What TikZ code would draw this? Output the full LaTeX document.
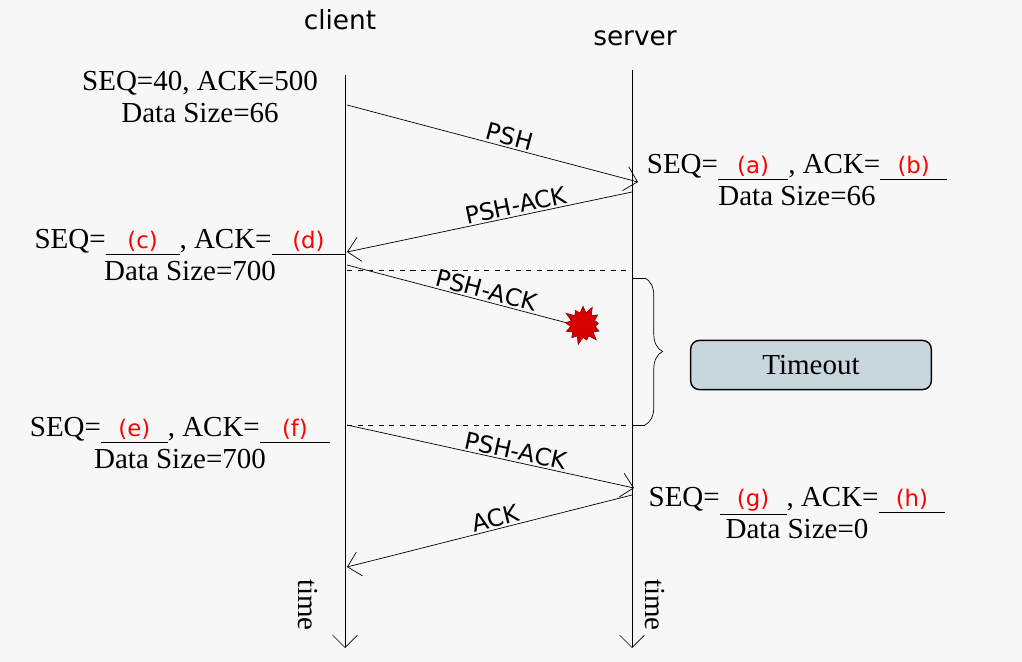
\documentclass[tikz,border=0pt]{standalone}
\usepackage{fontspec}
\setmainfont{Liberation Serif}
\newfontfamily\lsans{DejaVu Sans}
\usetikzlibrary{arrows.meta,decorations.pathreplacing,shapes.symbols}
\begin{document}
\begin{tikzpicture}[x=0.02cm,y=-0.02cm,
  msg/.style={-{Straight Barb[length=7pt]},thin},
  lbl/.style={font=\lsans\fontsize{13.5}{14}\selectfont,inner sep=1pt},
  txt/.style={font=\fontsize{16.5}{18}\selectfont,align=center}]
\newcommand{\blank}[2]{\underline{\makebox[#1]{\textcolor{red}{\lsans\fontsize{13}{13}\selectfont #2}}}}
\fill[gray!6] (0,0) rectangle (1022,662);
\useasboundingbox (0,0) rectangle (1022,662);
\coordinate (ct) at (345,75); \coordinate (cb) at (345,648);
\coordinate (st) at (632,70); \coordinate (sb) at (632,648);
\draw[msg] (ct) -- (cb);
\draw[msg] (st) -- (sb);
\node[font=\lsans\fontsize{15}{15}\selectfont] (client) at (340,20) {client};
\node[font=\lsans\fontsize{15}{15}\selectfont] (server) at (635,38) {server};
% messages
\coordinate (a1) at (347,105); \coordinate (a2) at (638,182);
\draw[msg] (a1) -- (a2) node[lbl,pos=0.55,above,sloped] {PSH};
\coordinate (b1) at (632,192); \coordinate (b2) at (347,252);
\draw[msg] (b1) -- (b2) node[lbl,pos=0.4,above,sloped] {PSH-ACK};
\coordinate (c1) at (347,265); \coordinate (c2) at (575,325);
\draw[thin] (c1) -- (c2) node[lbl,pos=0.6,above,sloped] {PSH-ACK};
\node[starburst,fill=red!85!black,draw=red!60!black,minimum size=24pt,inner sep=0pt,starburst points=13,starburst point height=5pt] (boom) at (583,325) {};
\coordinate (d1) at (347,425); \coordinate (d2) at (634,488);
\draw[msg] (d1) -- (d2) node[lbl,pos=0.58,above,sloped] {PSH-ACK};
\coordinate (e1) at (632,495); \coordinate (e2) at (347,567);
\draw[msg] (e1) -- (e2) node[lbl,pos=0.47,above,sloped] {ACK};
% dashed
\draw[dashed,thin] (347,270) -- (632,270);
\draw[dashed,thin] (347,425) -- (632,425);
% brace
\draw[decorate,decoration={brace,amplitude=10pt},thin] (645,278) -- (645,425);
\coordinate (bt) at (632,278); \coordinate (bb) at (632,425);
\draw[thin] (bt) -- (645,278); \draw[thin] (bb) -- (645,425);
\node[draw,thick,rounded corners=5pt,fill={rgb,255:red,200;green,214;blue,222},minimum width=137pt,minimum height=28pt,txt] (to) at (811,365) {Timeout};
\node[txt] (l1) at (200,97) {SEQ=40, ACK=500\\Data Size=66};
\node[txt] (r1) at (797,180) {SEQ=\blank{40pt}{(a)}, ACK=\blank{38pt}{(b)}\\Data Size=66};
\node[txt] (l2) at (190,255) {SEQ=\blank{42pt}{(c)}, ACK=\blank{42pt}{(d)}\\Data Size=700};
\node[txt] (l3) at (180,443) {SEQ=\blank{38pt}{(e)}, ACK=\blank{40pt}{(f)}\\Data Size=700};
\node[txt] (r2) at (797,513) {SEQ=\blank{38pt}{(g)}, ACK=\blank{38pt}{(h)}\\Data Size=0};
\node[txt,rotate=-90] (t1) at (308,605) {time};
\node[txt,rotate=-90] (t2) at (655,605) {time};
\end{tikzpicture}
\end{document}
